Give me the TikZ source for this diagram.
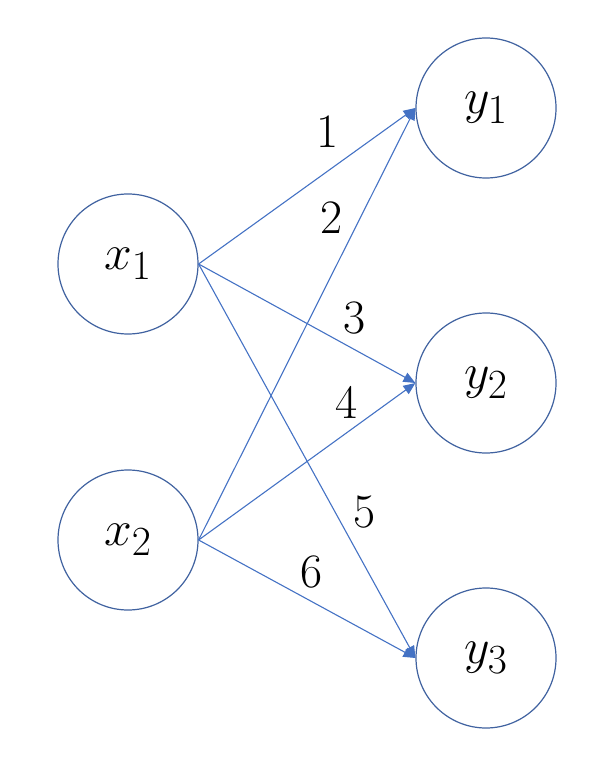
\documentclass[tikz,border=0pt]{standalone}
\usetikzlibrary{arrows.meta}
\definecolor{ringblue}{HTML}{4062A0}
\definecolor{linkblue}{HTML}{4472C4}
\tikzset{
  unit/.style={draw=ringblue,line width=0.6pt,circle,minimum size=70pt,inner sep=0pt,
    font=\fontsize{30}{36}\selectfont},
  link/.style={draw=linkblue,line width=0.55pt,-{Triangle[length=6pt,width=5pt]}},
  weight/.style={font=\fontsize{24}{29}\selectfont}
}
\begin{document}
\begin{tikzpicture}[x=0.5pt,y=-0.5pt]
    \useasboundingbox (0,0) rectangle (603,758);
    \foreach \i/\y in {1/264,2/540}{
        \node[unit] (x\i) at (128,\y) {$x_\i$};
      }
    \foreach \j/\y in {1/108,2/383,3/658}{
        \node[unit] (y\j) at (486,\y) {$y_\j$};
      }
    \foreach \i/\j/\n/\lx/\ly in {1/1/1/328/132,2/1/2/332/218,1/2/3/355/318,
        2/2/4/347/402,1/3/5/365/512,2/3/6/312/572}{
        \draw[link] (x\i.east) -- (y\j.west);
        \node[weight] (w\n) at (\lx,\ly) {\n};
      }
  \end{tikzpicture}
\end{document}
